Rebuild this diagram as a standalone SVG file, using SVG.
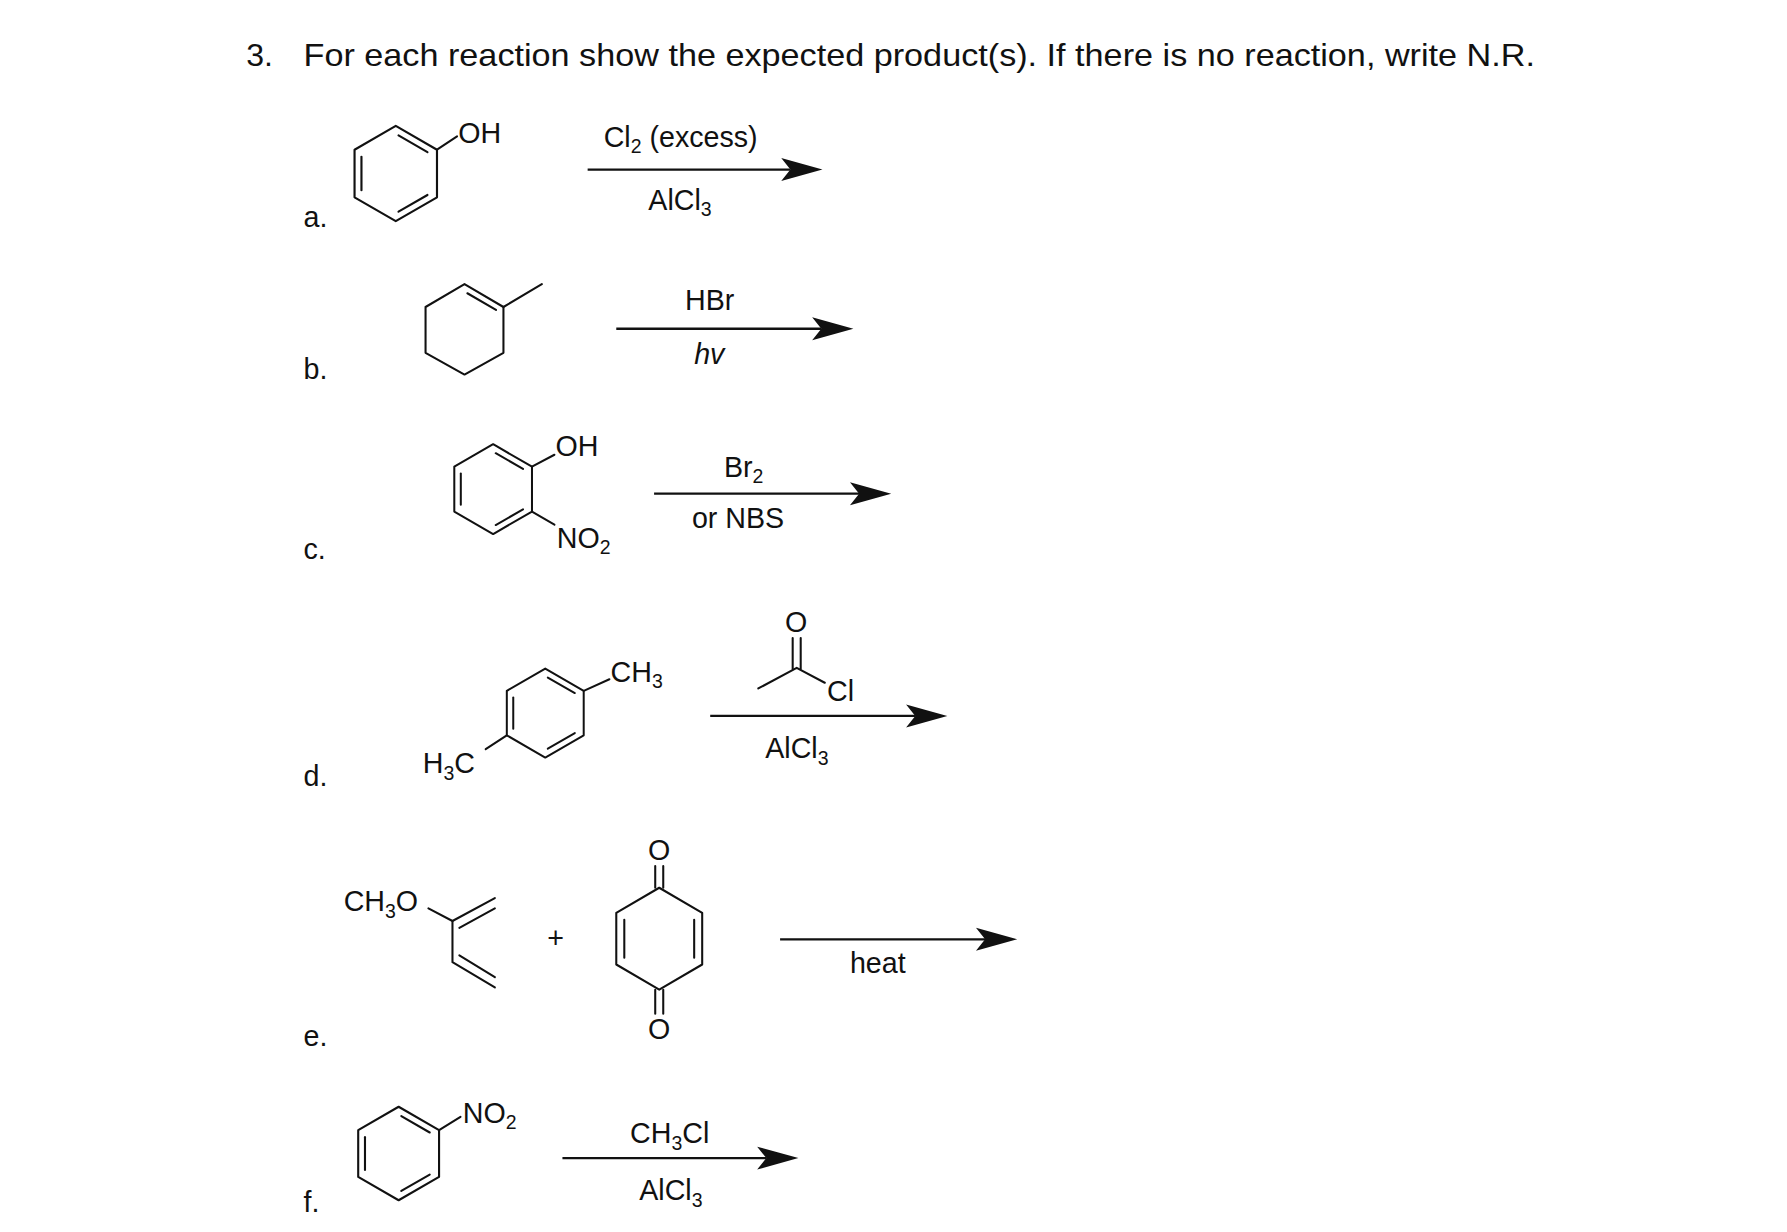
<svg xmlns="http://www.w3.org/2000/svg" xmlns:xlink="http://www.w3.org/1999/xlink" width="1787" height="1232" viewBox="0 0 1787 1232">
<style>
text{font-family:"Liberation Sans",Arial,sans-serif;fill:#111}
.t{font-size:28px}.l{font-size:25px}.r{font-size:25px}.s{font-size:17px}
.b{stroke:#111;stroke-width:1.8;fill:none;stroke-linecap:round;stroke-linejoin:round}
.ar{stroke:#111;stroke-width:2;fill:none}
.ah{fill:#111;stroke:none}
</style>
<defs>
<g id="benz" class="b">
<polygon points="0,-40 34.6,-20 34.6,20 0,40 -34.6,20 -34.6,-20"/>
<line x1="2.3" y1="-32" x2="26.6" y2="-18"/>
<line x1="-28.8" y1="-14" x2="-28.8" y2="14"/>
<line x1="2.3" y1="32" x2="26.6" y2="18"/>
</g>
</defs>
<rect width="1787" height="1232" fill="#fff"/>
<g transform="scale(1.1455) translate(0,-2)">
<g id="title">
<text class="t" x="215" y="60">3.</text>
<text class="t" x="265" y="60" textLength="1075" lengthAdjust="spacingAndGlyphs">For each reaction show the expected product(s).  If there is no reaction, write N.R.</text>
</g>
<g id="labels">
<text class="l" x="265" y="200">a.</text>
<text class="l" x="265" y="333">b.</text>
<text class="l" x="265" y="490">c.</text>
<text class="l" x="265" y="688">d.</text>
<text class="l" x="265" y="915">e.</text>
<text class="l" x="265" y="1060">f.</text>
</g>
<g id="mol-a">
<use xlink:href="#benz" href="#benz" transform="translate(345.5,153.5) scale(1.04)"/>
<line class="b" x1="381.5" y1="132.7" x2="399" y2="121"/>
<text class="r" x="400" y="127">OH</text>
</g>
<g id="mol-b" class="b">
<polygon points="405.5,250 439.5,270 439.5,310 405.5,329 371.5,310 371.5,270"/>
<line x1="408" y1="258" x2="433" y2="272.5"/>
<line x1="439.5" y1="270" x2="473" y2="250"/>
</g>
<g id="mol-c">
<use xlink:href="#benz" href="#benz" transform="translate(430.5,429) scale(0.98)"/>
<line class="b" x1="464.4" y1="409.4" x2="484" y2="399"/>
<line class="b" x1="464.4" y1="448.6" x2="484" y2="460"/>
<text class="r" x="485" y="400">OH</text>
<text class="r" x="486" y="480">NO<tspan class="s" dy="6">2</tspan></text>
</g>
<g id="mol-d">
<use xlink:href="#benz" href="#benz" transform="translate(476,624.5) scale(0.97)"/>
<line class="b" x1="509.6" y1="605.1" x2="532" y2="595"/>
<line class="b" x1="442.4" y1="643.9" x2="424" y2="656"/>
<text class="r" x="533" y="597">CH<tspan class="s" dy="6">3</tspan></text>
<text class="r" x="369" y="677">H<tspan class="s" dy="6">3</tspan><tspan dy="-6">C</tspan></text>
</g>
<g id="reagent-d">
<text class="r" x="695" y="554" text-anchor="middle">O</text>
<line class="b" x1="692" y1="559" x2="692" y2="586"/>
<line class="b" x1="699" y1="559" x2="699" y2="586"/>
<polyline class="b" points="662,603 695.5,585 720,598"/>
<text class="r" x="722" y="614">Cl</text>
</g>
<g id="mol-e1">
<text class="r" x="300" y="797">CH<tspan class="s" dy="6">3</tspan><tspan dy="-6">O</tspan></text>
<polyline class="b" points="374,795 395,806 395,842 432,864"/>
<line class="b" x1="395" y1="806" x2="432" y2="786"/>
<line class="b" x1="401" y1="812" x2="432" y2="795"/>
<line class="b" x1="401" y1="836" x2="432" y2="855"/>
</g>
<g id="plus"><text class="r" x="485" y="830" text-anchor="middle">+</text></g>
<g id="mol-e2" class="b">
<polygon points="575.5,777 613,799 613,844 575.5,866 538,844 538,799"/>
<line x1="545" y1="805" x2="545" y2="838"/>
<line x1="606" y1="805" x2="606" y2="838"/>
<line x1="572" y1="758" x2="572" y2="777"/>
<line x1="579" y1="758" x2="579" y2="777"/>
<line x1="572" y1="866" x2="572" y2="887"/>
<line x1="579" y1="866" x2="579" y2="887"/>
</g>
<g id="mol-e2-text">
<text class="r" x="575.5" y="753" text-anchor="middle">O</text>
<text class="r" x="575.5" y="909" text-anchor="middle">O</text>
</g>
<g id="mol-f">
<use xlink:href="#benz" href="#benz" transform="translate(348,1009) scale(1.02)"/>
<line class="b" x1="383.3" y1="988.6" x2="402" y2="977"/>
<text class="r" x="404" y="982">NO<tspan class="s" dy="6">2</tspan></text>
</g>
<g id="connectors">
<line class="ar" x1="513" y1="150" x2="690" y2="150"/><path class="ah" d="M718,150 L682,140 L690,150 L682,160 Z"/>
<line class="ar" x1="538" y1="289" x2="717" y2="289"/><path class="ah" d="M745,289 L709,279 L717,289 L709,299 Z"/>
<line class="ar" x1="571" y1="433" x2="750" y2="433"/><path class="ah" d="M778,433 L742,423 L750,433 L742,443 Z"/>
<line class="ar" x1="620" y1="627" x2="799" y2="627"/><path class="ah" d="M827,627 L791,617 L799,627 L791,637 Z"/>
<line class="ar" x1="681" y1="822" x2="860" y2="822"/><path class="ah" d="M888,822 L852,812 L860,822 L852,832 Z"/>
<line class="ar" x1="491" y1="1013" x2="669" y2="1013"/><path class="ah" d="M697,1013 L661,1003 L669,1013 L661,1023 Z"/>
</g>
<g id="reagents">
<text class="r" x="527" y="130">Cl<tspan class="s" dy="6">2</tspan><tspan dy="-6"> (excess)</tspan></text>
<text class="r" x="566" y="185">AlCl<tspan class="s" dy="6">3</tspan></text>
<text class="r" x="598" y="273">HBr</text>
<text class="r" x="606" y="320" font-style="italic">hv</text>
<text class="r" x="632" y="418">Br<tspan class="s" dy="6">2</tspan></text>
<text class="r" x="604" y="463">or NBS</text>
<text class="r" x="668" y="664">AlCl<tspan class="s" dy="6">3</tspan></text>
<text class="r" x="742" y="851">heat</text>
<text class="r" x="550" y="1000">CH<tspan class="s" dy="6">3</tspan><tspan dy="-6">Cl</tspan></text>
<text class="r" x="558" y="1050">AlCl<tspan class="s" dy="6">3</tspan></text>
</g>
</g>
</svg>
